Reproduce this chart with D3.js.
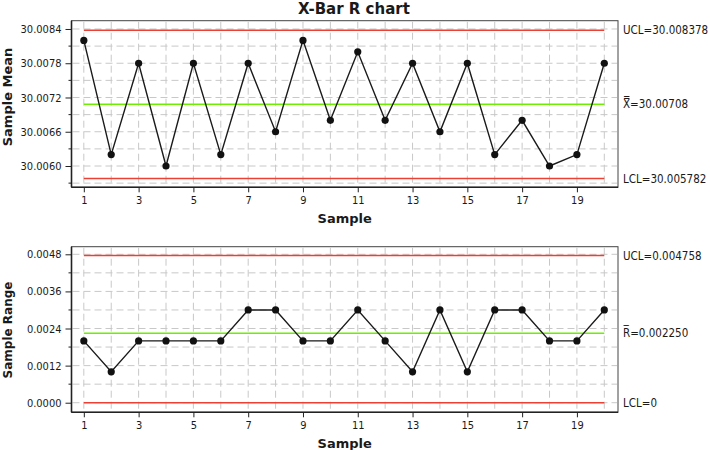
<!DOCTYPE html>
<html>
<head>
<meta charset="utf-8">
<script src="https://cdn.jsdelivr.net/npm/d3@7"></script>
<style>
  body { margin: 0; background: #fff; }
  svg text { font-family: "DejaVu Sans Condensed", "DejaVu Sans", sans-serif; fill: #1a1a1a; }
</style>
</head>
<body>
<svg id="chart" width="710" height="450"></svg>
<script>
const samples = d3.range(1, 21);

// sample means (x-bar)
const means = [30.0082, 30.0062, 30.0078, 30.0060, 30.0078, 30.0062, 30.0078, 30.0066, 30.0082, 30.0068,
               30.0080, 30.0068, 30.0078, 30.0066, 30.0078, 30.0062, 30.0068, 30.0060, 30.0062, 30.0078];

// sample ranges
const ranges = [0.002, 0.001, 0.002, 0.002, 0.002, 0.002, 0.003, 0.003, 0.002, 0.002,
                0.003, 0.002, 0.001, 0.003, 0.001, 0.003, 0.003, 0.002, 0.002, 0.003];

const meanLimits = [30.008378, 30.00708, 30.005782]; // UCL, CL, LCL
const rangeLimits = [0.004758, 0.002250, 0];

const meanTicks = [30.0060, 30.0066, 30.0072, 30.0078, 30.0084];
const meanMinor = [30.0057, 30.0063, 30.0069, 30.0075, 30.0081];
const rangeTicks = [0, 0.0012, 0.0024, 0.0036, 0.0048];
const rangeMinor = [0.0006, 0.0018, 0.0030, 0.0042];

const xTicks = [1, 3, 5, 7, 9, 11, 13, 15, 17, 19];

const RED = "#ec4034";
const GREEN = "#6cf000";

const svg = d3.select("#chart");
const left = 71.5, right = 618;

const x = d3.scaleLinear().domain([0.55, 20.5]).range([left, right]);

svg.append("text")
    .attr("x", 354).attr("y", 14)
    .attr("text-anchor", "middle")
    .style("font-family", "'DejaVu Sans', sans-serif")
    .style("font-weight", "bold")
    .style("font-size", "15px")
    .text("X-Bar R chart");

function drawPanel(opts) {
    const y = d3.scaleLinear().domain(opts.domain).range([opts.bottom, opts.top]);
    const g = svg.append("g");

    // frame
    g.append("rect")
        .attr("x", left).attr("y", opts.top)
        .attr("width", right - left).attr("height", opts.bottom - opts.top)
        .attr("fill", "none").attr("stroke", "#444").attr("stroke-width", 1);

    // dashed grid, every sample and every half tick
    const gridY = opts.ticks.concat(opts.minor);
    g.append("g").selectAll("line").data(gridY).join("line")
        .attr("x1", left + 1).attr("x2", right - 1)
        .attr("y1", d => y(d)).attr("y2", d => y(d))
        .attr("stroke", "#c8c8c8").attr("stroke-dasharray", "7,4");
    g.append("g").selectAll("line").data(samples).join("line")
        .attr("x1", d => x(d)).attr("x2", d => x(d))
        .attr("y1", opts.top + 1).attr("y2", opts.bottom - 1)
        .attr("stroke", "#c8c8c8").attr("stroke-dasharray", "7,4");

    // control limits
    g.append("g").selectAll("line").data(opts.limits).join("line")
        .attr("x1", x(1)).attr("x2", x(20))
        .attr("y1", d => y(d)).attr("y2", d => y(d))
        .attr("stroke", (d, i) => i === 1 ? GREEN : RED)
        .attr("stroke-width", 1.5);

    // limit labels
    g.append("g").selectAll("text").data(opts.limits).join("text")
        .attr("x", 623).attr("y", d => y(d))
        .attr("dy", "0.36em")
        .style("font-size", "11.5px")
        .text((d, i) => opts.labels[i]);

    // series
    const line = d3.line().x((d, i) => x(samples[i])).y(d => y(d));
    g.append("path").datum(opts.values)
        .attr("d", line).attr("fill", "none")
        .attr("stroke", "#1a1a1a").attr("stroke-width", 1.4);
    g.append("g").selectAll("circle").data(opts.values).join("circle")
        .attr("cx", (d, i) => x(samples[i])).attr("cy", d => y(d))
        .attr("r", 3.6).attr("fill", "#111");

    // y axis
    const yAxis = g.append("g").attr("transform", `translate(${left},0)`)
        .call(d3.axisLeft(y).tickValues(opts.ticks).tickFormat(d3.format(".4f")).tickSize(6).tickPadding(4));
    yAxis.append("g").selectAll("line").data(opts.minor).join("line")
        .attr("x1", -3).attr("x2", 0)
        .attr("y1", d => y(d)).attr("y2", d => y(d))
        .attr("stroke", "#222");
    yAxis.select(".domain").attr("stroke", "#222").attr("stroke-width", 1.6)
        .attr("d", `M0,${opts.top}V${opts.bottom}`);
    yAxis.selectAll(".tick line").attr("stroke", "#222");
    yAxis.selectAll("text").style("font-size", "11px").style("fill", "#1a1a1a");

    // x axis
    const xAxis = g.append("g").attr("transform", `translate(0,${opts.bottom})`)
        .call(d3.axisBottom(x).tickValues(xTicks).tickFormat(d3.format("d")).tickSize(5).tickPadding(4));
    xAxis.select(".domain").attr("stroke", "#222").attr("stroke-width", 1.6)
        .attr("d", `M${left},0H${right}`);
    xAxis.selectAll(".tick line").attr("stroke", "#222");
    xAxis.selectAll("text").style("font-size", "11px").style("fill", "#1a1a1a");

    // titles
    svg.append("text")
        .attr("x", (left + right) / 2).attr("y", opts.bottom + 36)
        .attr("text-anchor", "middle")
        .style("font-family", "'DejaVu Sans', sans-serif")
        .style("font-weight", "bold").style("font-size", "13px")
        .text("Sample");
    svg.append("text")
        .attr("transform", `translate(11.5,${opts.titleY}) rotate(-90)`)
        .attr("text-anchor", "middle")
        .style("font-family", "'DejaVu Sans', sans-serif")
        .style("font-weight", "bold").style("font-size", opts.titleSize)
        .text(opts.title);
}

drawPanel({
    top: 20.7, bottom: 187.3,
    domain: [30.005627, 30.008545],
    values: means, limits: meanLimits,
    ticks: meanTicks, minor: meanMinor,
    labels: ["UCL=30.008378", "X\u033F=30.00708", "LCL=30.005782"],
    title: "Sample Mean", titleY: 97, titleSize: "13px"
});

drawPanel({
    top: 246.7, bottom: 412.3,
    domain: [-0.00031, 0.005046],
    values: ranges, limits: rangeLimits,
    ticks: rangeTicks, minor: rangeMinor,
    labels: ["UCL=0.004758", "R\u0305=0.002250", "LCL=0"],
    title: "Sample Range", titleY: 330, titleSize: "12px"
});
</script>
</body>
</html>
